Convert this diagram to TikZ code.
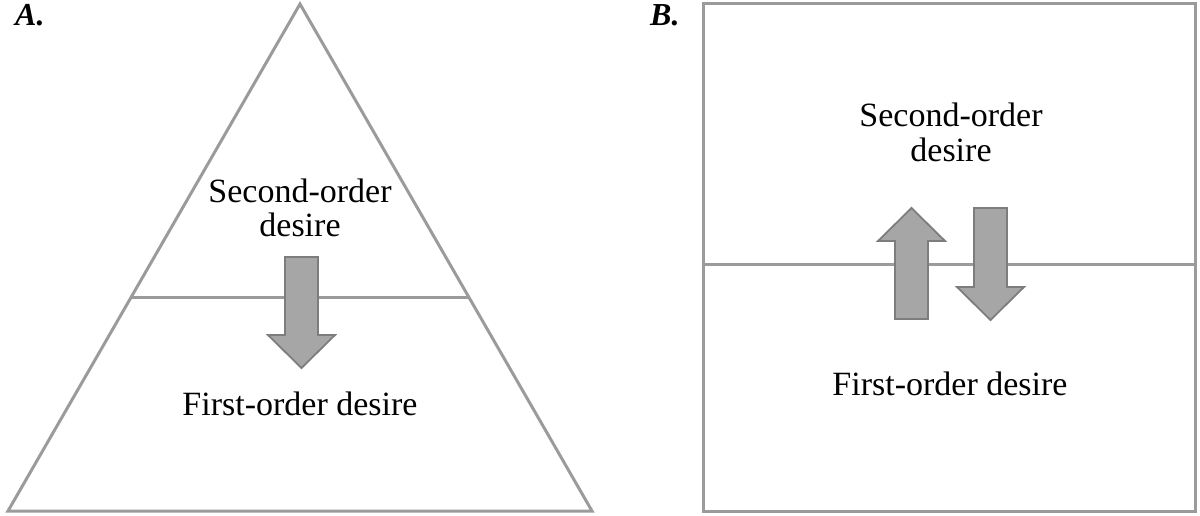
\documentclass[tikz,border=0pt]{standalone}
\usepackage{fontspec}
\setmainfont{Liberation Serif}
\definecolor{linegray}{RGB}{155,155,155}
\definecolor{arrowfill}{RGB}{166,166,166}
\definecolor{arrowedge}{RGB}{125,125,125}
\begin{document}
\begin{tikzpicture}[x=1pt,y=-1pt,
  frame/.style={draw=linegray,line width=3pt,line join=miter},
  blockarrow/.style={fill=arrowfill,draw=arrowedge,line width=1.8pt,line join=miter},
  lbl/.style={font=\fontsize{34}{35}\selectfont,inner sep=0pt,anchor=base},
  panel/.style={font=\fontsize{32}{32}\selectfont\bfseries\itshape,inner sep=0pt,anchor=base west}]
\useasboundingbox (0,0) rectangle (1200,516);
% Panel A
\node[panel] (pa) at (15,26) {A.};
\draw[frame] (300,4) -- (592,511) -- (8,511) -- cycle;
\draw[frame] (131,297) -- (469,297);
\draw[blockarrow] (285,257) -- (318,257) -- (318,335) -- (335,335) -- (301.5,368) -- (268,335) -- (285,335) -- cycle;
\node[lbl] (a2a) at (300,202) {Second-order};
\node[lbl] (a2b) at (300,236) {desire};
\node[lbl] (a1) at (300,415) {First-order desire};
% Panel B
\node[panel] (pb) at (650,26) {B.};
\draw[frame] (703,4) rectangle (1195,511);
\draw[frame] (703,264) -- (1195,264);
\draw[blockarrow] (895,319) -- (928,319) -- (928,241) -- (945,241) -- (911.5,208) -- (878,241) -- (895,241) -- cycle;
\draw[blockarrow] (974,208) -- (1007,208) -- (1007,287) -- (1024,287) -- (990.5,320) -- (957,287) -- (974,287) -- cycle;
\node[lbl] (b2a) at (951,127) {Second-order};
\node[lbl] (b2b) at (951,162) {desire};
\node[lbl] (b1) at (950,395) {First-order desire};
\end{tikzpicture}
\end{document}
